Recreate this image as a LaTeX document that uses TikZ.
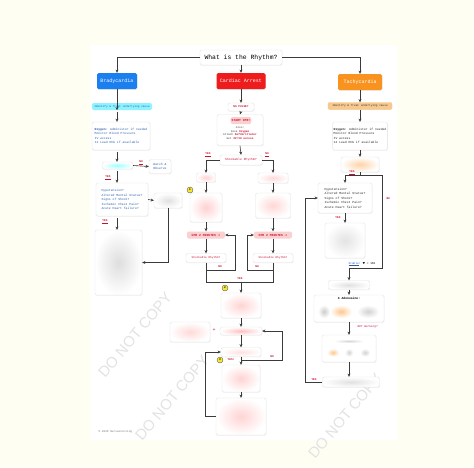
\documentclass[tikz,border=0pt]{standalone}
\usepackage{fontspec}
\setmainfont{Liberation Mono}
\newfontfamily\symf{DejaVu Sans}
\newfontfamily\wmfont{Liberation Sans}
\usetikzlibrary{arrows.meta, shadows, calc}

\definecolor{bradyblue}{HTML}{1C7FEF}
\definecolor{arrestred}{HTML}{EE1C1C}
\definecolor{tachyorange}{HTML}{F7931E}
\definecolor{cyanfill}{HTML}{8FF3FF}
\definecolor{peachfill}{HTML}{F8C98E}
\definecolor{pagecream}{HTML}{FFFEF3}
\definecolor{inkblue}{HTML}{2A5CAA}
\definecolor{inkred}{HTML}{C8102E}
\definecolor{pinkfill}{HTML}{FBD0D0}
\definecolor{wire}{HTML}{3A3A3A}
\definecolor{dotyellow}{HTML}{F3E43A}

\newcommand\titlefs{\fontsize{6.4}{7.5}\selectfont}
\newcommand\headfs{\fontsize{5}{6}\selectfont}
\newcommand\smallfs{\fontsize{3.1}{4.5}\selectfont}
\newcommand\tinyfs{\fontsize{2.8}{3.5}\selectfont}

\begin{document}
\begin{tikzpicture}[x=1pt, y=-1pt, >={Stealth[length=3.2pt, width=3pt]},
    every node/.style={font=\tinyfs},
    flowcard/.style={draw=black!10, fill=white, rounded corners=1.5pt, inner sep=1pt,
        drop shadow={opacity=.15, shadow xshift=.4pt, shadow yshift=-.7pt}},
    hdbox/.style={rounded corners=1.5pt, text=white, minimum height=16pt, font=\headfs,
        drop shadow={opacity=.2, shadow xshift=.4pt, shadow yshift=-.7pt}},
    pill/.style={rounded corners=2pt, minimum height=7pt, inner sep=1pt},
    blurbox/.style={flowcard, inner color=#1, outer color=white},
    tile/.style={rounded corners=1pt, inner sep=0pt, inner color=#1, outer color=white},
    lnk/.style={draw=wire, line width=.6pt},
    lbl/.style={text=inkred, font=\tinyfs\bfseries},
    numdot/.style={circle, fill=dotyellow, draw=black!70, line width=.3pt, inner sep=.3pt,
        minimum size=6pt, font=\tinyfs\bfseries},
    wmark/.style={text=black!11, rotate=50, font=\wmfont\fontsize{15}{15}\selectfont}]
    \useasboundingbox (0, 0) rectangle (474, 467);
    \fill[pagecream] (0, 0) rectangle (474, 467);
    \fill[white] (90, 45) rectangle (397, 440);

    % watermark
    \foreach \wx/\wy in {135/335, 172/398, 345/416}
        \node[wmark] at (\wx, \wy) {DO NOT COPY};

    \node[flowcard, minimum width=82pt, minimum height=15pt, font=\titlefs] at (241, 57.5) (rhythm) {What is the Rhythm?};
    \node[hdbox, fill=bradyblue, minimum width=40pt] at (117, 81) (brady) {Bradycardia};
    \node[hdbox, fill=arrestred, minimum width=49pt] at (241, 81) (arrest) {Cardiac Arrest};
    \node[hdbox, fill=tachyorange, minimum width=44pt] at (360, 82) (tachy) {Tachycardia};

    % bradycardia side
    \node[pill, fill=cyanfill, text=inkblue, minimum width=60pt] at (122, 106.5) (idB) {Identify \& Treat underlying cause};
    \node[flowcard, text=inkblue, align=left, minimum width=58pt, minimum height=28pt, font=\smallfs] at (121, 136) (oxB)
        {\textbf{Oxygen}: Administer if needed\\Monitor Blood Pressure\\IV access\\12 Lead ECG if available};
    \node[blurbox=cyan!40, rounded corners=2.5pt, minimum width=31pt, minimum height=7pt] at (117.5, 165.5) (bq) {};
    \node[flowcard, text=inkblue, align=center, minimum width=22pt, minimum height=14pt, font=\smallfs] at (160, 166.5) (watch) {Watch \&\\Observe};
    \node[flowcard, text=inkblue, align=left, minimum width=52pt, minimum height=33pt, font=\smallfs] at (122, 199.5) (hypB)
        {Hypotension?\\Altered Mental Status?\\Signs of Shock?\\Ischemic Chest Pain?\\Acute Heart failure?};
    \node[blurbox=black!12, minimum width=28pt, minimum height=15pt] at (168, 200.5) (bside) {};
    \node[blurbox=black!13, minimum width=47pt, minimum height=65pt] at (118.5, 262.5) (bbig) {};

    % cardiac arrest side
    \node[flowcard, text=inkred, font=\tinyfs\bfseries, minimum width=26pt, minimum height=8pt] at (241, 107) (nopulse) {NO PULSE?};
    \node[flowcard, minimum width=46pt, minimum height=31pt] at (240, 130) (cpr) {};
    \node[pill, fill=pinkfill, text=inkred, font=\smallfs\bfseries] at (241, 120.5) (start) {START CPR!};
    \node[align=center, text=black!75] at (240, 133) (cprtxt)
        {Also:\\Give \textcolor{inkred}{\textbf{Oxygen}}\\Attach \textcolor{inkred}{\textbf{Defibrillator}}\\Get \textcolor{inkred}{\textbf{IV/IO access}}};
    \node[flowcard, text=inkred, font=\smallfs, minimum width=42pt, minimum height=10pt] at (241, 160) (shockA) {Shockable Rhythm?};
    \node[blurbox=red!18, minimum width=19pt, minimum height=9pt] at (206, 177.5) (s1) {};
    \node[blurbox=red!15, minimum width=30pt, minimum height=10pt] at (273, 178) (s2) {};
    \node[blurbox=red!18, minimum width=32pt, minimum height=29pt] at (206, 207.5) (b1) {};
    \node[blurbox=red!16, minimum width=35pt, minimum height=25pt] at (273, 205.5) (b2) {};
    \node[pill, fill=pinkfill, text=inkred, font=\smallfs\bfseries, minimum width=38pt] at (206, 235) (cprL) {CPR 2 MINUTES {\symf →}};
    \node[pill, fill=pinkfill, text=inkred, font=\smallfs\bfseries, minimum width=38pt] at (273, 235) (cprR) {CPR 2 MINUTES {\symf →}};
    \node[flowcard, text=inkred, minimum width=40pt, minimum height=9pt] at (206, 258) (shL) {Shockable Rhythm?};
    \node[flowcard, text=inkred, minimum width=40pt, minimum height=9pt] at (273, 258) (shR) {Shockable Rhythm?};
    \node[blurbox=red!17, minimum width=40pt, minimum height=25pt] at (241, 305.5) (c1) {};
    \node[blurbox=red!25, rounded corners=2.5pt, minimum width=42pt, minimum height=8pt] at (241, 331) (c2) {};
    \node[blurbox=red!15, minimum width=40pt, minimum height=20pt] at (190, 332) (side) {};
    \node[text=inkred, font=\headfs] at (214, 330.5) (plus) {+};
    \node[blurbox=red!12, minimum width=40pt, minimum height=9pt] at (241, 352) (c3) {};
    \node[blurbox=red!17, minimum width=38pt, minimum height=27pt] at (241, 378.5) (c4) {};
    \node[blurbox=red!17, minimum width=50pt, minimum height=37pt] at (241, 416.5) (c5) {};
    \node[numdot] at (190, 190) (dot1) {1};
    \node[numdot] at (225, 288) (dot2) {2};
    \node[numdot] at (220, 360) (dot3) {3};

    % tachycardia side
    \node[pill, fill=peachfill, draw=tachyorange!60, text=black!80, minimum width=64pt] at (360, 106) (idT) {Identify \& Treat underlying cause};
    \node[flowcard, text=black!85, align=left, minimum width=52pt, minimum height=28pt, font=\smallfs] at (360, 136) (oxT)
        {\textbf{Oxygen}: Administer if needed\\Monitor Blood Pressure\\IV access\\12 Lead ECG if available};
    \node[blurbox=orange!35, minimum width=38pt, minimum height=15pt] at (360, 164.5) (tq) {};
    \node[flowcard, text=black!85, align=left, minimum width=54pt, minimum height=30pt, font=\smallfs] at (345, 198) (hypT)
        {Hypotension?\\Altered Mental Status?\\Signs of Shock?\\Ischemic Chest Pain?\\Acute Heart failure?};
    \node[blurbox=black!11, minimum width=40pt, minimum height=35pt] at (345, 240.5) (tb) {};
    \node at (362, 264) (stable) {\textcolor{inkblue}{\underline{Stable}}: {\symf ♥} < 150};
    \node[blurbox=black!12, minimum width=41pt, minimum height=9pt] at (349, 285) (sb) {};
    \node[flowcard, minimum width=70pt, minimum height=27pt] at (349, 308.5) (aden) {};
    \node[font=\smallfs\bfseries] at (349, 298.5) (adentxt) {X Adenosine:};
    \node[tile=black!20, minimum width=12pt, minimum height=13pt] at (324, 311.5) (t1) {};
    \node[tile=orange!45, minimum width=22pt, minimum height=13pt] at (341, 311.5) (t2) {};
    \node[tile=black!18, minimum width=22pt, minimum height=13pt] at (368, 311.5) (t3) {};
    \node[flowcard, minimum width=54pt, minimum height=27pt] at (349, 348.5) (nw) {};
    \node[tile=black!16, minimum width=30pt, minimum height=4pt] at (349, 341) (t4) {};
    \node[tile=orange!45, minimum width=12pt, minimum height=8pt] at (333, 352.5) (t5) {};
    \node[tile=black!18, minimum width=8pt, minimum height=8pt] at (349, 352.5) (t6) {};
    \node[tile=black!18, minimum width=10pt, minimum height=8pt] at (365, 352.5) (t7) {};
    \node[blurbox=black!12, minimum width=57pt, minimum height=10pt] at (351, 382) (last) {};

    \node[text=black!55, anchor=west] at (95, 432) (copy) {© 2020 Nursesnursing};

    % connectors
    \draw[lnk, ->] (rhythm.west) -| (brady.north);
    \draw[lnk, ->] (rhythm.east) -| (tachy.north);
    \draw[lnk, ->] (rhythm.south) -- (arrest.north);

    \draw[lnk, ->] (brady.south) -- (idB.south -| brady);
    \draw[lnk, ->] (idB.south -| brady) ++(0, 2) -- (oxB.north -| brady);
    \draw[lnk, ->] (oxB.south -| brady) ++(0, 2) -- (bq.north -| brady);
    \draw[lnk, ->] (bq.east) -- (watch.west);
    \draw[lnk, ->] (bq.south -| brady) ++(0, 2) -- (hypB.north -| brady);
    \draw[lnk, ->] (hypB.east) -- (bside.west);
    \draw[lnk, ->] (hypB.south -| brady) ++(0, 2) -- (bbig.north -| brady);
    \draw[lnk, ->] (bside.south) |- (bbig.east);
    \node[lbl] at (141, 162.5) (noB) {\underline{NO}};
    \node[lbl] at (108, 178) (yesB1) {\underline{YES}};
    \node[lbl] at (105, 222) (yesB2) {\underline{YES}};

    \draw[lnk, ->] (arrest.south) -- (nopulse.north);
    \draw[lnk, ->] (nopulse.south) -- (cpr.north);
    \draw[lnk, ->] (cpr.south) -- (shockA.north);
    \draw[lnk, ->] (shockA.west) -| (s1.north);
    \draw[lnk, ->] (shockA.east) -| (s2.north);
    \draw[lnk, ->] (s1) -- (b1);
    \draw[lnk, ->] (s2) -- (b2);
    \draw[lnk, ->] (b1) -- (cprL);
    \draw[lnk, ->] (b2) -- (cprR);
    \draw[lnk, ->] (cprL) -- (shL);
    \draw[lnk, ->] (cprR) -- (shR);
    \coordinate (jL) at (206, 282);
    \coordinate (jR) at (273, 282);
    \coordinate (loopL) at (235, 270);
    \coordinate (loopR) at (247, 270);
    \draw[lnk] (shL.south) -- (jL) -- (jR) -- (shR.south);
    \draw[lnk, ->] (shL.south |- loopL) -- (loopL) |- (cprL.east);
    \draw[lnk, ->] (shR.south |- loopR) -- (loopR) |- (cprR.west);
    \draw[lnk, ->] (jL -| c1.north) -- (c1.north);
    \draw[lnk, ->] (c1) -- (c2);
    \draw[lnk, ->] (c2) -- (c3);
    \draw[lnk, ->] (c3) -- (c4);
    \draw[lnk, ->] (c4) -- (c5);
    \coordinate (loopN) at (282, 360);
    \coordinate (loopY) at (205, 416.5);
    \draw[lnk, ->] (c3.south |- loopN) -- (loopN) |- (c2.east);
    \draw[lnk, ->] (c5.west) -- (loopY) |- (c3.west);
    \node[lbl] at (208, 155) (yesA) {\underline{YES}};
    \node[lbl] at (267, 155) (noA) {\underline{NO}};
    \node[lbl] at (220, 267) (noL) {NO};
    \node[lbl] at (257, 267) (noR) {NO};
    \node[lbl] at (240, 278.5) (yesM) {YES};
    \node[lbl] at (272, 356.5) (noM) {NO};
    \node[lbl] at (231, 360) (yesY) {YES!};

    \draw[lnk, ->] (tachy.south) -- (idT.north);
    \draw[lnk, ->] (idT.south) -- (oxT.north);
    \draw[lnk, ->] (oxT.south) -- (tq.north);
    \coordinate (tqj) at (360, 175.5);
    \coordinate (noT) at (382, 268);
    \coordinate (loopT) at (305, 382);
    \draw[lnk] (tq.south) -- (tqj);
    \draw[lnk, ->] (tqj) -| (hypT.north);
    \draw[lnk, ->] (tqj) -| (noT) -| (sb.north);
    \draw[lnk, ->] (hypT.south) -- (tb.north);
    \draw[lnk, ->] (sb.south) -- (aden.north);
    \draw[lnk, ->] (aden.south) -- (nw.north);
    \draw[lnk, ->] (nw.south) -- (nw.south |- last.north);
    \draw[lnk, ->] (last.west) -- (loopT) |- (hypT.west);
    \node[lbl] at (352, 172.5) (yesT1) {\underline{YES}};
    \node[lbl, anchor=west] at (383, 199) (noT1) {NO};
    \node[lbl] at (338, 218) (yesT2) {YES};
    \node[lbl, anchor=west] at (308, 379.5) (yesT3) {YES};
    \node[lbl, font=\tinyfs\itshape, anchor=west] at (354, 327) (notw) {NOT Working?};
\end{tikzpicture}
\end{document}
